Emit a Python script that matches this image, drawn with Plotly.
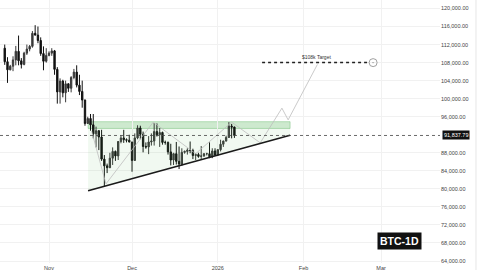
import pandas as pd
import plotly.graph_objects as go

# ---------------- data (values in thousands of USD) ----------------
open_k = [
    111.2, 108.2, 106.4, 107.2, 108.6, 110.5, 108.4, 107.6, 110.1, 111.0, 111.6, 114.5, 114.1, 112.9, 110.0, 108.3,
    109.6, 110.1, 110.6, 106.5, 101.5, 103.9, 101.3, 103.3, 102.3, 104.7, 105.9, 103.0, 101.6, 99.7, 94.5,
    95.6, 94.2, 92.2, 92.9, 91.5, 86.6, 85.1, 84.7, 86.8, 88.3, 87.3, 90.5, 91.3, 90.9, 90.8,
    90.4, 86.3, 91.3, 93.5, 92.1, 89.4, 89.3, 90.4, 90.6, 92.7, 92.0, 92.5, 90.3, 90.3, 88.2,
    86.4, 87.8, 86.1, 85.5, 88.1, 88.3, 88.6, 88.5, 87.4, 87.6, 87.2, 87.3, 87.8, 87.8, 87.1, 88.4,
    87.5, 88.7, 89.9, 90.6, 91.4, 93.9, 93.7,
]
high_k = [
    112.0, 109.2, 107.5, 109.4, 111.7, 114.0, 109.0, 110.4, 112.0, 111.9, 115.0, 116.3, 116.0, 113.6, 111.6, 111.2,
    110.5, 111.2, 110.8, 107.0, 104.5, 104.2, 104.0, 103.4, 105.0, 106.6, 107.4, 105.3, 104.0, 99.8, 96.0,
    96.6, 96.6, 93.8, 93.0, 93.1, 87.5, 85.6, 88.0, 89.2, 88.5, 90.6, 91.9, 93.1, 91.2, 92.0,
    90.4, 92.3, 94.1, 94.0, 92.7, 90.3, 91.7, 92.3, 94.6, 94.5, 93.5, 92.7, 90.7, 90.5, 90.0,
    88.0, 90.4, 89.4, 89.0, 88.5, 89.0, 90.5, 88.9, 87.9, 88.0, 89.5, 87.9, 88.0, 90.3, 89.0, 89.0,
    88.8, 90.9, 90.7, 91.8, 94.8, 94.4, 93.8,
]
low_k = [
    107.5, 103.5, 106.3, 106.1, 107.4, 107.4, 106.7, 107.4, 109.7, 110.5, 111.3, 114.0, 112.3, 109.5, 106.3, 108.0,
    109.4, 109.5, 105.3, 98.9, 98.9, 100.3, 99.2, 101.5, 101.4, 104.3, 102.5, 100.8, 98.0, 94.0, 94.4,
    92.9, 91.2, 89.2, 88.6, 86.2, 80.6, 83.5, 84.6, 85.3, 86.2, 86.4, 90.1, 90.2, 90.3, 90.3,
    83.8, 86.2, 91.0, 91.0, 88.1, 88.9, 87.7, 89.6, 89.6, 91.6, 89.3, 89.8, 89.8, 87.6, 85.2,
    85.3, 85.4, 84.4, 85.1, 87.8, 87.6, 87.9, 86.6, 86.4, 86.9, 86.6, 87.1, 87.4, 86.8, 86.8, 87.3,
    87.4, 88.3, 89.3, 90.5, 91.3, 91.2, 91.3,
]
close_k = [
    108.2, 106.4, 107.2, 108.6, 110.5, 108.4, 107.6, 110.1, 111.0, 111.6, 114.5, 114.1, 112.9, 110.0, 108.3, 109.6,
    110.1, 110.6, 106.5, 101.5, 103.9, 101.3, 103.3, 102.3, 104.7, 105.9, 103.0, 101.6, 99.7, 94.5, 95.6,
    94.2, 92.2, 92.9, 91.5, 86.6, 85.1, 84.7, 86.8, 88.3, 87.3, 90.5, 91.3, 90.9, 90.8, 90.4,
    86.3, 91.3, 93.5, 92.1, 89.4, 89.3, 90.4, 90.6, 92.7, 92.0, 92.5, 90.3, 90.3, 88.2, 86.4,
    87.8, 86.1, 85.5, 88.1, 88.3, 88.6, 88.5, 87.4, 87.6, 87.2, 87.3, 87.8, 87.8, 87.1, 88.4, 87.5,
    88.7, 89.9, 90.6, 91.4, 93.9, 93.7, 91.83779,
]
start_date = "2025-10-16"

last_price = 91837.79
y_ticks = [120000, 116000, 112000, 108000, 104000, 100000, 96000, 88000, 84000, 80000, 76000, 72000, 68000, 64000]
x_tick_dates = ["2025-11-01", "2025-12-01", "2026-01-01", "2026-02-01", "2026-03-01"]
x_tick_labels = ["Nov", "Dec", "2026", "Feb", "Mar"]

# drawing annotations (dates / prices)
zone_low, zone_high = 93400, 94900
zone_start, zone_end = "2025-11-15 03:00", "2026-01-27 03:00"
trend_start = ("2025-11-15 03:00", 79600)
trend_end = ("2026-01-27 03:00", 91900)
zig_dates = ["2025-11-16 10:00", "2025-11-21 14:00", "2025-12-08 16:00", "2025-12-24 00:00",
             "2026-01-06 00:00", "2026-01-16 08:00", "2026-01-24 04:00", "2026-01-26 10:00", "2026-02-06 00:00"]
zig_prices = [92800, 81100, 94800, 87800, 94800, 90200, 97900, 95300, 107600]
target_price = 108000
target_start, target_end = "2026-01-17 00:00", "2026-02-25 00:00"
target_circle = "2026-02-26 03:00"
target_label = "$108k Target"
badge_text = "BTC-1D"

# ---------------------------------------------------------------------
dates = pd.date_range(start_date, periods=len(close_k), freq="D")
o = [v * 1000 for v in open_k]
h = [v * 1000 for v in high_k]
l = [v * 1000 for v in low_k]
c = [v * 1000 for v in close_k]

fig = go.Figure()

# light triangle fill
fig.add_trace(go.Scatter(
    x=[zone_start, zone_end, trend_end[0], trend_start[0], zone_start],
    y=[zone_low, zone_low, trend_end[1], trend_start[1], zone_low],
    fill="toself", fillcolor="rgba(76,175,80,0.08)", line=dict(width=0),
    mode="lines", hoverinfo="skip", showlegend=False))

# zigzag projection
fig.add_trace(go.Scatter(x=zig_dates, y=zig_prices, mode="lines",
                         line=dict(color="#bdbdbd", width=0.8), hoverinfo="skip", showlegend=False))

fig.add_trace(go.Candlestick(
    x=dates, open=o, high=h, low=l, close=c,
    increasing=dict(line=dict(color="#3a3a3a", width=1), fillcolor="#3a3a3a"),
    decreasing=dict(line=dict(color="#111111", width=1), fillcolor="#111111"),
    whiskerwidth=0, showlegend=False))

# target line
fig.add_trace(go.Scatter(x=[target_start, target_end], y=[target_price, target_price], mode="lines",
                         line=dict(color="#222", width=1.5, dash="dot"), hoverinfo="skip", showlegend=False))
fig.add_trace(go.Scatter(x=[target_circle], y=[target_price], mode="markers",
                         marker=dict(symbol="circle-open-dot", size=8, color="#a0a0a0", line=dict(width=1)),
                         hoverinfo="skip", showlegend=False))

shapes = [
    dict(type="rect", xref="x", yref="y", x0=zone_start, x1=zone_end, y0=zone_low, y1=zone_high,
         fillcolor="rgba(76,175,80,0.28)", line=dict(color="rgba(76,175,80,0.45)", width=0.8), layer="below"),
    dict(type="line", xref="x", yref="y", x0=trend_start[0], y0=trend_start[1], x1=trend_end[0], y1=trend_end[1],
         line=dict(color="#1a1a1a", width=1.6)),
    dict(type="line", xref="paper", yref="y", x0=0, x1=1, y0=last_price, y1=last_price,
         line=dict(color="#444", width=0.8, dash="dot")),
    dict(type="line", xref="paper", yref="paper", x0=1.0818, x1=1.0818, y0=-0.05, y1=1.05,
         line=dict(color="#e6e6e6", width=1)),
]

annotations = [
    dict(x=1.0, xref="paper", y=last_price, yref="y", xanchor="left", yanchor="middle",
         text="91,837.79", showarrow=False, bgcolor="#111", font=dict(color="white", size=5.5,
                                                                      family="Liberation Sans"),
         borderpad=1, xshift=2),
    dict(x="2026-02-05 20:00", xref="x", y=target_price, yref="y", yanchor="bottom", yshift=1,
         text=target_label, showarrow=False, font=dict(color="#333", size=5, family="Liberation Sans")),
    dict(x=0.907, xref="paper", y=0.084, yref="paper", xanchor="center", yanchor="middle",
         text="<b>" + badge_text + "</b>", showarrow=False, bgcolor="#111",
         font=dict(color="white", size=10.5, family="Liberation Sans"), borderpad=2),
]

fig.update_layout(
    width=480, height=270,
    margin=dict(l=0, r=40, t=0, b=7),
    paper_bgcolor="white", plot_bgcolor="white",
    shapes=shapes, annotations=annotations,
    xaxis=dict(type="date", range=["2025-10-14 07:00", "2026-03-22 07:00"],
               tickvals=x_tick_dates, ticktext=x_tick_labels, showgrid=True, gridcolor="#f1f1f1",
               gridwidth=1, zeroline=False, rangeslider=dict(visible=False), ticks="",
               tickfont=dict(size=5.5, color="#444", family="Liberation Sans"), showline=False),
    yaxis=dict(side="right", range=[63557, 121885], tickvals=y_ticks, tickformat=",.2f",
               showgrid=True, gridcolor="#f1f1f1", gridwidth=1, zeroline=False, ticks="",
               tickfont=dict(size=5.5, color="#444", family="Liberation Sans"), showline=False),
    font=dict(family="Liberation Sans"),
)

fig.write_html("out.html")
